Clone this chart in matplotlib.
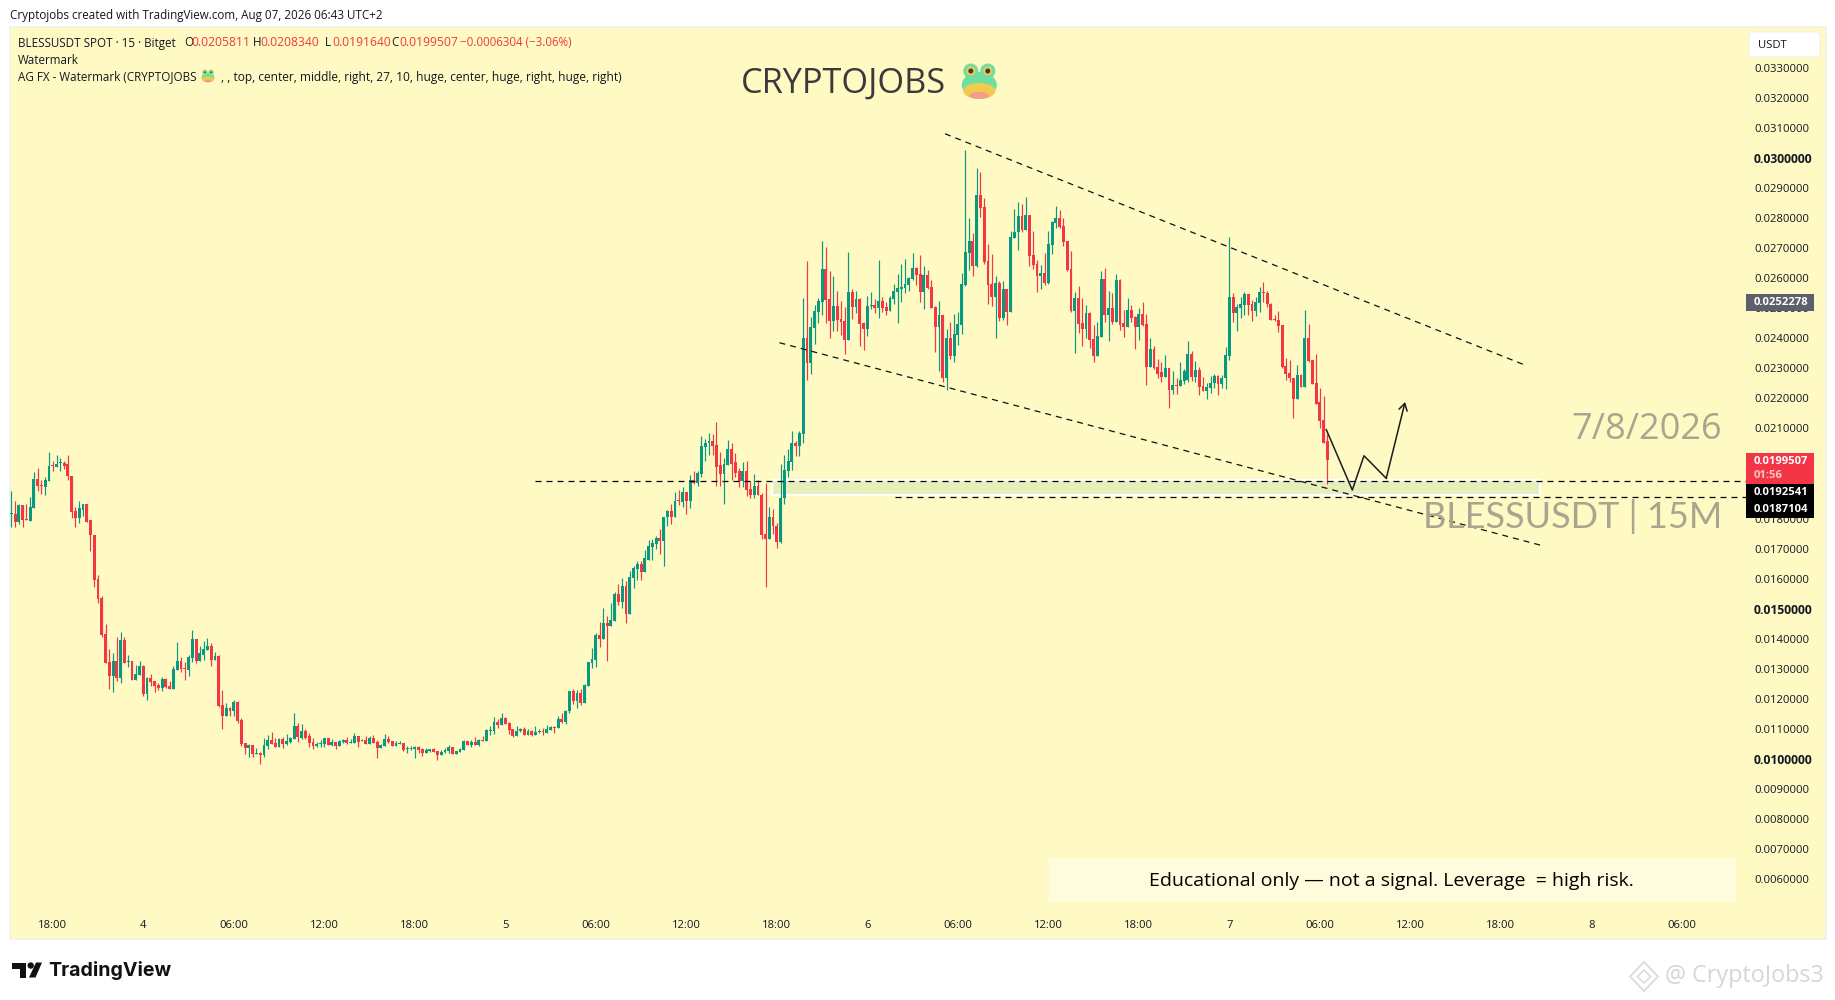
import numpy as np
import matplotlib
matplotlib.use("Agg")
import matplotlib.pyplot as plt
from matplotlib.patches import Rectangle, Ellipse, Polygon, FancyBboxPatch

plt.rcParams['font.family'] = ['Open Sans', 'DejaVu Sans']

# candles, in units of 0.0001 USDT
opens = [181.4,181.7,178.8,184.4,179.7,179.1,183.5,193.3,191.0,190.4,
192.4,197.6,197.3,198.4,198.6,198.0,194.3,182.4,180.1,183.0,
184.7,179.4,174.7,159.8,153.5,141.5,132.2,127.7,132.5,127.0,
139.5,132.2,132.5,126.3,128.0,130.9,121.6,126.9,125.9,124.5,
123.7,126.5,124.2,123.3,129.6,132.5,130.2,129.6,133.5,139.8,
132.5,134.8,136.2,137.5,132.9,134.2,117.9,114.3,116.9,115.9,
118.9,112.9,105.3,103.6,104.6,101.6,102.0,101.3,104.3,106.3,
105.3,104.0,106.6,105.0,105.6,106.6,110.9,
107.2,109.4,107.6,105.6,104.3,105.0,105.0,107.0,104.6,105.6,
104.3,105.6,106.3,105.3,105.3,107.6,106.0,106.3,105.0,107.0,
105.6,103.6,104.3,106.6,106.0,104.3,105.0,105.3,103.3,103.3,
103.3,104.0,103.3,102.0,102.6,103.3,102.6,101.3,102.3,102.6,
104.0,101.6,102.3,103.0,106.0,104.6,105.6,104.6,106.3,106.0,
109.4,109.3,112.3,111.3,113.6,111.9,109.9,107.6,109.3,109.9,
107.9,109.3,107.9,108.9,109.3,108.6,109.6,110.6,110.3,113.3,
112.3,115.9,122.6,119.2,121.9,118.6,124.2,
131.9,133.0,141.2,139.9,145.2,144.2,145.8,154.8,152.2,157.5,
148.2,160.1,163.1,164.8,162.1,166.4,170.4,171.4,173.4,172.4,
180.4,182.4,180.4,186.0,185.4,188.7,185.7,192.7,192.0,195.0,
203.7,205.0,205.7,204.6,197.7,195.0,197.7,203.0,198.7,195.7,
192.4,196.0,189.7,187.7,190.7,188.0,174.8,173.1,180.4,177.7,
172.1,186.7,196.0,198.7,205.0,204.3,
208.3,240.2,231.6,243.5,248.8,252.2,263.1,253.2,245.8,250.8,
246.5,245.8,239.5,255.5,250.5,253.2,245.2,242.9,250.8,251.2,
250.2,252.5,250.5,249.2,253.2,255.5,256.5,256.8,257.8,259.8,
263.5,261.5,255.5,261.1,257.1,250.5,243.8,247.8,226.6,240.2,
234.2,241.2,244.5,257.8,268.4,272.4,264.1,287.7,283.7,265.8,
258.1,253.8,258.5,246.8,256.5,248.8,273.4,275.4,280.7,276.1,
281.1,267.8,264.8,260.8,261.8,258.5,271.1,278.4,280.1,277.4,
272.4,263.1,249.2,253.5,245.2,243.2,248.5,239.8,234.2,240.5,
259.8,247.8,250.1,245.5,259.4,245.2,243.8,249.5,247.1,243.8,
248.1,244.8,230.5,236.5,230.5,228.9,227.2,230.2,222.9,224.6,
224.2,225.9,226.2,234.9,227.2,229.5,224.2,222.6,223.6,225.2,
227.5,224.9,226.6,234.2,253.8,248.5,250.1,251.1,254.8,251.5,
249.2,251.8,255.5,255.1,251.5,246.4,246.2,244.5,230.9,228.5,
226.9,219.9,227.9,223.9,240.2,232.9,225.2,218.9,212.9,205.8]

closes = [181.7,178.8,184.4,179.4,179.4,183.7,193.3,190.8,190.7,192.7,
197.6,197.4,198.3,198.6,197.6,194.1,182.1,180.1,183.4,184.7,
179.0,174.5,159.5,153.2,141.3,132.0,127.7,132.5,127.0,139.5,
132.0,132.5,126.3,128.2,130.9,121.6,126.9,125.5,124.3,123.7,
126.5,124.0,123.3,129.9,132.5,129.9,130.0,133.9,139.8,132.5,
135.2,136.5,137.5,132.9,134.2,117.6,114.3,116.9,115.9,118.9,
112.6,105.0,103.6,104.6,101.7,102.0,101.3,104.6,106.3,105.0,
104.0,106.6,105.0,105.9,106.9,110.9,107.3,
109.4,107.2,105.5,104.3,105.0,105.3,107.0,104.6,105.6,104.3,
106.0,106.3,105.3,105.6,107.6,105.6,106.3,105.0,107.0,105.3,
103.6,104.6,106.6,105.6,104.3,105.3,105.3,103.0,103.6,103.6,
104.0,103.0,102.0,103.0,103.3,102.3,101.3,102.3,103.0,104.0,
101.6,102.6,103.3,106.0,104.6,105.6,104.6,106.3,106.0,109.6,
109.6,112.3,111.3,113.6,111.6,109.6,107.6,109.3,109.9,107.9,
109.3,107.9,108.9,109.3,109.1,109.9,110.6,110.5,113.3,112.3,
115.9,122.6,119.2,121.9,118.6,124.6,132.2,
133.2,141.2,139.9,145.2,144.2,146.2,154.8,152.2,157.5,148.2,
160.5,163.5,164.8,162.1,166.8,170.8,171.8,173.4,172.4,180.7,
182.4,180.4,186.0,185.7,188.7,185.7,192.7,192.0,195.3,204.0,
205.3,205.7,204.3,197.3,195.0,198.0,203.0,198.3,195.3,192.4,
196.0,189.4,187.7,190.7,187.7,174.4,173.1,180.4,177.4,172.1,
187.0,196.3,199.0,205.0,204.3,208.6,
240.2,231.6,243.8,249.2,252.5,263.1,252.8,245.8,250.8,246.2,
245.5,239.5,255.5,250.5,253.2,244.8,242.9,250.8,251.2,250.2,
252.5,250.2,249.2,253.5,255.8,256.8,257.1,258.1,260.1,263.5,
261.1,255.5,261.1,256.8,250.2,243.8,247.8,226.6,240.2,234.2,
241.5,244.8,258.1,268.8,272.4,264.1,287.7,283.4,265.4,257.8,
253.8,258.5,246.8,256.5,248.8,273.8,275.4,280.7,276.1,281.1,
267.4,264.5,260.8,261.8,258.5,271.4,278.7,280.1,277.1,272.1,
262.8,249.2,253.5,244.8,243.2,248.5,239.5,234.2,240.8,259.8,
247.8,250.1,245.5,259.4,244.5,243.8,249.5,246.8,243.8,248.1,
244.5,230.5,236.5,230.2,228.2,227.2,230.2,222.9,224.6,224.2,
226.2,229.2,234.9,227.2,229.5,223.9,222.6,223.9,225.2,227.5,
224.9,226.6,234.5,253.8,248.5,250.5,251.5,254.8,251.1,249.2,
252.1,255.5,255.1,251.5,246.2,246.0,244.2,230.5,228.2,226.6,
219.9,227.9,223.9,240.2,232.5,224.9,218.2,212.6,205.3,199.5]

highs = [189.3,186.0,185.0,184.6,185.0,187.3,195.6,197.0,193.0,194.0,
202.0,199.3,201.0,200.0,199.3,201.0,194.3,184.0,186.0,185.0,
185.0,179.6,174.7,161.4,154.4,144.8,136.5,135.2,140.5,142.2,
140.5,134.8,132.5,131.2,132.5,131.2,127.2,128.2,125.9,125.2,
127.2,126.9,125.9,130.9,138.8,133.9,132.2,134.5,142.8,139.8,
137.8,139.2,140.2,138.5,135.8,134.5,122.9,118.6,117.2,119.6,
119.2,113.6,105.3,105.0,104.6,103.6,102.3,106.9,107.9,108.9,
106.9,106.9,107.3,108.3,107.3,115.3,111.9,
111.6,109.9,108.6,107.0,105.6,106.3,107.0,107.0,106.6,105.6,
106.3,106.6,107.3,106.6,108.6,107.6,106.6,107.6,107.6,107.9,
106.3,105.0,108.3,107.6,106.0,106.0,106.0,105.3,104.3,104.3,
104.3,104.3,103.6,103.6,103.3,103.6,102.6,103.0,103.6,104.6,
104.0,102.6,103.6,106.3,106.0,106.3,107.3,106.6,107.6,109.9,
110.9,113.9,113.3,115.3,113.9,112.3,109.9,110.9,110.3,110.6,
109.9,109.6,110.9,109.9,110.3,111.3,110.9,110.9,114.3,115.3,
116.3,122.6,123.2,122.9,123.2,124.9,132.2,
136.9,142.0,145.5,150.2,147.5,151.8,155.5,158.1,160.1,159.1,
162.5,164.1,165.8,165.8,169.4,172.8,173.1,174.1,176.4,180.7,
182.7,184.7,189.0,189.4,190.4,188.7,194.4,196.0,196.0,207.6,
206.6,208.6,208.3,212.0,202.3,200.3,206.0,205.0,201.7,196.7,
198.7,199.0,192.4,194.7,192.7,188.4,191.7,183.7,183.1,178.7,
198.0,201.3,203.3,209.0,205.7,209.3,
253.5,265.8,247.2,251.2,253.5,272.4,270.4,262.5,260.8,255.8,
252.5,250.5,268.8,256.5,255.8,253.5,245.5,254.2,255.5,253.2,
266.1,253.8,252.2,254.2,258.1,261.5,264.8,266.4,260.5,268.4,
263.8,267.8,264.1,262.8,259.5,250.8,252.5,247.8,242.9,245.5,
248.2,248.8,261.8,302.7,280.1,275.1,296.7,295.3,286.7,271.4,
268.1,260.8,259.1,259.1,256.5,275.8,283.1,285.4,284.7,287.0,
281.1,275.7,266.1,264.5,268.4,275.7,279.1,284.1,282.7,280.1,
272.4,269.1,255.5,257.4,253.5,251.1,248.8,244.5,245.5,262.4,
263.4,255.8,255.1,261.4,259.8,249.5,253.5,251.1,247.5,250.1,
252.1,248.1,240.2,237.5,233.2,232.2,234.5,230.2,229.2,226.9,
232.2,229.9,239.2,235.9,232.5,230.5,227.2,225.2,227.5,228.2,
227.9,227.9,237.2,273.7,255.1,251.5,253.8,255.5,254.8,252.8,
253.8,257.1,258.8,255.8,251.8,247.8,249.1,244.5,233.5,232.9,
226.9,231.2,228.2,249.5,244.8,232.9,234.9,223.6,220.9,208.3]

lows = [177.2,177.2,178.2,177.2,179.4,179.1,183.5,189.1,188.1,187.8,
192.4,195.8,197.1,195.8,196.6,192.8,180.1,177.2,178.4,181.0,
178.8,169.2,157.2,151.9,140.6,132.0,123.2,122.3,126.0,125.3,
132.0,130.6,126.3,126.3,128.0,121.0,119.7,124.3,122.3,123.0,
122.7,123.7,123.3,123.3,129.6,129.0,126.3,127.7,132.2,132.0,
132.5,133.0,136.2,131.0,132.9,117.2,110.0,114.3,114.3,114.3,
111.9,104.4,101.7,100.7,100.7,101.7,98.4,100.7,103.3,105.0,
104.0,104.0,103.6,104.7,105.4,106.6,105.6,
106.6,106.8,104.1,103.3,104.1,104.1,104.1,104.6,104.3,103.3,
104.3,105.3,105.0,105.3,105.3,104.0,106.0,105.0,105.0,105.3,
100.3,103.6,104.3,105.3,104.3,104.3,105.0,102.6,102.0,103.0,
100.3,102.0,101.0,102.0,102.3,102.3,99.6,101.3,102.0,102.0,
101.6,101.6,102.3,103.0,104.6,104.0,104.6,104.3,106.0,106.0,
107.9,108.3,110.3,111.3,111.6,108.3,107.3,107.6,108.9,107.9,
107.9,107.6,107.9,108.6,107.9,108.6,109.6,108.6,110.3,111.9,
111.6,115.3,118.2,116.9,117.9,118.6,124.2,
130.4,130.6,137.2,139.9,132.6,144.2,145.8,151.2,150.2,145.2,
148.2,156.8,159.5,159.5,162.1,166.1,166.1,169.8,168.1,164.1,
177.7,178.1,180.4,184.4,183.7,181.4,183.4,191.4,191.0,194.0,
199.3,201.3,201.3,191.0,190.7,184.7,197.7,193.0,193.7,190.4,
190.4,187.4,186.7,186.7,187.7,173.1,157.1,173.1,174.8,170.1,
171.8,185.0,194.0,196.3,200.7,200.7,
205.0,226.2,228.2,238.2,245.2,247.8,245.2,240.2,242.5,242.5,
241.2,234.9,239.5,246.5,248.5,237.5,236.2,240.9,249.8,248.5,
246.8,248.8,247.8,249.2,251.5,245.2,252.2,255.1,255.8,259.5,
257.8,252.2,249.8,256.5,250.2,235.5,229.2,225.6,222.9,233.2,
232.2,237.9,241.5,257.5,262.8,260.8,263.8,280.4,264.8,251.5,
250.8,240.2,245.8,246.2,244.5,248.8,273.4,269.4,275.4,276.1,
264.1,263.1,255.5,256.5,257.8,258.1,268.1,276.7,276.7,270.8,
262.5,248.8,235.2,241.8,237.5,240.2,236.9,232.2,234.2,240.5,
245.5,239.2,244.8,245.5,242.8,240.5,243.8,245.5,236.5,239.5,
244.2,224.6,230.5,229.9,226.9,225.6,227.2,216.9,221.6,221.6,
224.2,224.9,225.6,225.9,225.6,221.2,222.6,219.9,221.9,223.6,
221.2,223.6,223.2,232.9,245.5,242.5,246.8,247.8,247.8,245.8,
247.5,248.8,252.1,250.5,246.2,245.8,242.2,230.2,226.2,225.6,
213.6,219.9,223.9,223.9,232.2,224.9,218.2,210.3,205.3,191.6]

price_ticks = [0.006 + 0.001 * i for i in range(28)]
bold_ticks = ['0.0300000', '0.0150000', '0.0100000']
time_ticks = ['18:00', '4', '06:00', '12:00', '18:00', '5', '06:00', '12:00', '18:00', '6',
              '06:00', '12:00', '18:00', '7', '06:00', '12:00', '18:00', '8', '06:00']
first_tick_bar = 11
bars_per_tick = 24

# drawings, as (bar, price)
upper_trend = ([247.6, 401.1], [0.03080, 0.02312])
lower_trend = ([203.7, 405.4], [0.02385, 0.01712])
zigzag_bars = [348.7, 355.6, 358.7, 364.6, 369.6]
zigzag_prices = [0.02096, 0.01895, 0.02009, 0.01934, 0.02188]
level_high = 0.0192541
level_low = 0.0187104
zone_top = 0.01929
zone_bottom = 0.01879

BG = '#FFF9C4'
UP = '#089981'
DOWN = '#F23645'
TEXT = '#131722'
W, H = 1835, 1000

fig = plt.figure(figsize=(W / 100, H / 100), dpi=100, facecolor='white')
fig.add_artist(Rectangle((9.5 / W, 1 - 939 / H), 1816 / W, 912 / H, transform=fig.transFigure,
                         fc=BG, ec='#F0F0EC', lw=1.2, zorder=-1))

# main price pane, the price scale labels sit just right of it
ax = fig.add_axes([10 / W, 1 - 908 / H, 1736 / W, 881 / H])
ax.patch.set_alpha(0)
for s in ax.spines.values():
    s.set_visible(False)

x = np.arange(len(opens))
o = np.array(opens) * 1e-4
c = np.array(closes) * 1e-4
hi = np.array(highs) * 1e-4
lo = np.array(lows) * 1e-4
cols = [UP if b >= a else DOWN for a, b in zip(o, c)]
ax.vlines(x, lo, hi, colors=cols, lw=0.85, zorder=3)
ax.bar(x, np.maximum(np.abs(c - o), 0.000035), bottom=np.minimum(o, c), width=0.76,
       color=cols, linewidth=0, zorder=3)

ax.add_patch(Rectangle((201.7, zone_bottom), 203.8, zone_top - zone_bottom, fc='#E6EEB9', ec='white',
                       lw=1.6, zorder=2))
dash = (0, (4.8, 4.0))
ax.plot([138.9, 460], [level_high, level_high], color='black', lw=0.9, ls=dash, zorder=4)
ax.plot([234.3, 460], [level_low, level_low], color='black', lw=0.9, ls=dash, zorder=4)
ax.plot(*upper_trend, color='#111111', lw=0.9, ls=dash, zorder=4)
ax.plot(*lower_trend, color='#111111', lw=0.9, ls=dash, zorder=4)
ax.plot(zigzag_bars[:-1], zigzag_prices[:-1], color='#1c1c1c', lw=1.1, zorder=5)
ax.annotate('', xy=(zigzag_bars[-1], zigzag_prices[-1]), xytext=(zigzag_bars[-2], zigzag_prices[-2]),
            arrowprops=dict(arrowstyle='->,head_length=0.5,head_width=0.3', color='#1c1c1c', lw=1.1,
                            shrinkA=0, shrinkB=0), zorder=5)

ax.set_xlim(-0.345, 460.0)
ax.set_ylim(0.00505, 0.03435)
ax.yaxis.tick_right()
ax.set_yticks(price_ticks)
ax.set_yticklabels(['%.7f' % p for p in price_ticks])
ax.set_xticks([first_tick_bar + bars_per_tick * i for i in range(len(time_ticks))])
ax.set_xticklabels(time_ticks)
ax.tick_params(axis='both', length=0, labelsize=8.1, labelcolor=TEXT)
ax.tick_params(axis='x', pad=8.5)
ax.tick_params(axis='y', pad=5.8)
for t in ax.get_yticklabels():
    if t.get_text() in bold_ticks:
        t.set_fontweight('bold')
        t.set_fontsize(8.7)

# overlay in picture pixels for the TradingView furniture
ov = fig.add_axes([0, 0, 1, 1], zorder=10)
ov.set_xlim(0, W)
ov.set_ylim(H, 0)
ov.axis('off')


def frog(cx, cy, s=1.0):
    ov.add_patch(Ellipse((cx, cy + 5 * s), 35 * s, 26 * s, fc='#6EDFA0', ec='none', zorder=2))
    ov.add_patch(Ellipse((cx, cy + 11 * s), 32 * s, 16 * s, fc='#F2CB4E', ec='none', zorder=3))
    ov.add_patch(Ellipse((cx, cy + 15.5 * s), 20 * s, 7 * s, fc='#F59C8C', ec='none', zorder=4))
    for dx in (-8.5, 8.5):
        ov.add_patch(Ellipse((cx + dx * s, cy - 9 * s), 15 * s, 15 * s, fc='#6EDFA0', ec='none', zorder=2))
        ov.add_patch(Ellipse((cx + dx * s, cy - 9 * s), 9 * s, 9 * s, fc='#F2CB4E', ec='none', zorder=3))
        ov.add_patch(Ellipse((cx + dx * s, cy - 9 * s), 5 * s, 5 * s, fc='#3A3A3A', ec='none', zorder=4))


ov.text(10, 16, 'Cryptojobs created with TradingView.com, Aug 07, 2026 06:43 UTC+2', fontsize=8.35,
        color=TEXT, va='center')

ov.text(18, 43, 'BLESSUSDT SPOT · 15 · Bitget', fontsize=8.33, color=TEXT, va='center')
for px, lab, val in [(184, 'O', '0.0205811'), (253, 'H', '0.0208340'), (324.5, 'L', '0.0191640'),
                     (391.5, 'C', '0.0199507')]:
    ov.text(px, 43, lab, fontsize=8.33, color=TEXT, va='center')
    ov.text(px + 7.5, 43, val, fontsize=8.7, color=DOWN, va='center')
ov.text(460, 43, '−0.0006304 (−3.06%)', fontsize=8.3, color=DOWN, va='center')
ov.text(18, 60, 'Watermark', fontsize=8.33, color=TEXT, va='center')
ov.text(18, 77, 'AG FX - Watermark (CRYPTOJOBS', fontsize=8.33, color=TEXT, va='center')
frog(208, 75.5, 0.36)
ov.text(220.5, 77, ', , top, center, middle, right, 27, 10, huge, center, huge, right, huge, right)',
        fontsize=8.6, color=TEXT, va='center')

ov.text(741, 84, 'CRYPTOJOBS', fontsize=24.7, color='#3A3A3A', va='center')
frog(979.3, 80)

ov.text(1722, 430, '7/8/2026', fontsize=26, color='#A9A68F', va='center', ha='right')
ov.text(1722, 517, 'BLESSUSDT | 15M', fontsize=26, color='#A9A68F', family=['Lato', 'DejaVu Sans'],
        va='center', ha='right')

ov.add_patch(Rectangle((1049, 858), 687, 44, fc='#FFFBDD', ec='none'))
ov.text(1391.5, 881, 'Educational only — not a signal. Leverage  = high risk.', fontsize=14, color='black',
        va='center', ha='center')

# USDT button
ov.add_patch(FancyBboxPatch((1751, 34), 67, 21, boxstyle='round,pad=2,rounding_size=3', fc='white', ec='#EEEEEE',
                            lw=0.6))
ov.text(1758, 45.5, 'USDT', fontsize=8.1, color=TEXT, va='center')

# price tags on the scale
ov.add_patch(Rectangle((1746, 294), 68, 16.7, fc='#5D606B', ec='none'))
ov.text(1754, 302.5, '0.0252278', fontsize=8.1, color='white', weight='bold', va='center')
ov.add_patch(Rectangle((1746, 453.3), 68, 31, fc=DOWN, ec='none'))
ov.text(1754, 461.7, '0.0199507', fontsize=8.1, color='white', weight='bold', va='center')
ov.text(1754, 476, '01:56', fontsize=8.1, color='#FBC4C9', weight='bold', va='center')
ov.add_patch(Rectangle((1746, 484), 68, 33.7, fc='#000000', ec='none'))
ov.text(1754, 492.7, '0.0192541', fontsize=8.1, color='white', weight='bold', va='center')
ov.text(1754, 509, '0.0187104', fontsize=8.1, color='white', weight='bold', va='center')

# TradingView logo
ov.add_patch(Polygon([(12, 962.5), (26, 962.5), (26, 977.5), (19.5, 977.5), (19.5, 968.5), (12, 968.5)],
                     fc='#111111', ec='none'))
ov.add_patch(Ellipse((30.7, 965.5), 6.4, 6.4, fc='#111111', ec='none'))
ov.add_patch(Polygon([(36, 962.5), (42, 962.5), (35.5, 977.5), (29, 977.5)], fc='#111111', ec='none'))
ov.text(48, 970, 'TradingView', fontsize=14.1, color='#111111', family=['Inter', 'DejaVu Sans'],
        weight='bold', va='center')

# site watermark bottom right
ov.add_patch(Polygon([(1644, 962), (1658, 976.5), (1644, 991), (1630, 976.5)], fc='none', ec='#DDDDDD', lw=1.4))
ov.add_patch(Polygon([(1644, 970), (1650.5, 976.5), (1644, 983), (1637.5, 976.5)], fc='none', ec='#DDDDDD', lw=1.2))
ov.text(1665, 976, '@ CryptoJobs3', fontsize=16.8, color='#D6D6D6', va='center')

fig.savefig('out.png', dpi=100)
